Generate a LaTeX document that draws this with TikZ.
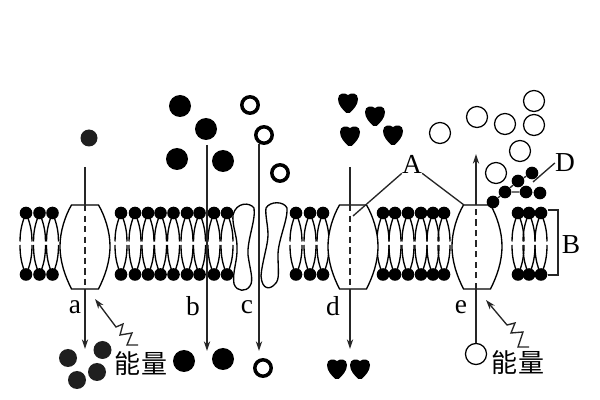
\documentclass[tikz,border=0pt]{standalone}
\usepackage{fontspec}
\setmainfont{Liberation Serif}
\newfontfamily\cjk{Noto Sans CJK SC}
\usepackage{tikz}
\usetikzlibrary{arrows.meta}

\tikzset{
  line/.style={line width=0.95pt,black!85},
  flow/.style={line,-{Stealth[length=7pt,width=4.5pt]}},
  gap/.style={line,dash pattern=on 4.5pt off 3pt},
  head/.style={fill=black},
  ball/.style={fill=black!88},
  ring/.style={draw=black,line width=2.5pt,fill=white},
  open/.style={draw=black,line width=0.9pt,fill=white},
  lab/.style={font=\fontsize{19.5}{22}\selectfont,inner sep=0pt},
  cjklab/.style={font=\cjk\fontsize{18.5}{20}\selectfont,inner sep=0pt},
  link/.style={circle,fill=black,inner sep=0pt,minimum size=9pt}
}
% one lipid pair of the bilayer
\newcommand{\lipid}[1]{
  \draw[line,black] (#1-1.5,217) .. controls (#1-5,226) and (#1-6,234) .. (#1-6,241.5);
  \draw[line,black] (#1+1.5,217) .. controls (#1+5,226) and (#1+6,234) .. (#1+6,241.5);
  \draw[line,black] (#1-1.5,271) .. controls (#1-5,262) and (#1-6,254) .. (#1-6,245);
  \draw[line,black] (#1+1.5,271) .. controls (#1+5,262) and (#1+6,254) .. (#1+6,245);
  \fill[head] (#1,213) circle (6.3);
  \fill[head] (#1,274.5) circle (6.3);
}
% carrier protein
\newcommand{\protein}[1]{
  \draw[line,black,fill=white] (#1-13.5,205) -- (#1+13.5,205)
    .. controls (#1+20,216) and (#1+25,232) .. (#1+25,246)
    .. controls (#1+25,262) and (#1+20,276) .. (#1+13.5,289)
    -- (#1-13.5,289)
    .. controls (#1-20,276) and (#1-25,262) .. (#1-25,246)
    .. controls (#1-25,232) and (#1-20,216) .. (#1-13.5,205) -- cycle;
}
% heart shaped particle
\newcommand{\heart}[2]{
  \fill[black] (#1,#2-8) .. controls (#1+3,#2-10.5) and (#1+10,#2-10.5) .. (#1+10,#2-4)
    .. controls (#1+10,#2+2) and (#1+5,#2+7) .. (#1+1.5,#2+10)
    -- (#1-1.5,#2+10)
    .. controls (#1-5,#2+7) and (#1-10,#2+2) .. (#1-10,#2-4)
    .. controls (#1-10,#2-10.5) and (#1-3,#2-10.5) .. (#1,#2-8) -- cycle;
}

\begin{document}
\begin{tikzpicture}[x=0.025cm,y=-0.025cm]
  \useasboundingbox (0,0) rectangle (600,400);
  % bilayer
  \foreach \x in {26,39.5,52.5,121,135,148,160.5,173.5,187,199.5,214,227,296,310,323,383,395,408,421,433,444,518,529,541}
    {\lipid{\x}}
  % proteins
  \protein{85}
  \protein{353}
  \protein{477}
  % channel
  \draw[line,black,fill=white] (233,215) .. controls (236,202) and (250,202) .. (254,208)
    .. controls (256,220) and (247,240) .. (248,255)
    .. controls (250,270) and (254,280) .. (250,286)
    .. controls (246,292) and (237,292) .. (234,284)
    .. controls (232,272) and (238,260) .. (237,246)
    .. controls (237,236) and (232,225) .. (233,215) -- cycle;
  \draw[line,black,fill=white] (266,208) .. controls (270,201) and (284,201) .. (287,208)
    .. controls (288,220) and (278,240) .. (278,255)
    .. controls (278,270) and (280,280) .. (275,284)
    .. controls (270,290) and (262,290) .. (261,276)
    .. controls (262,262) and (268,245) .. (268,235)
    .. controls (268,225) and (265,215) .. (266,208) -- cycle;
  % transport lines
  \coordinate (atop) at (85,167);
  \coordinate (ain) at (85,205);
  \coordinate (aout) at (85,289);
  \coordinate (aend) at (85,349);
  \draw[line] (atop) -- (ain);
  \draw[gap] (ain) -- (aout);
  \draw[flow] (aout) -- (aend);
  \coordinate (btop) at (207,145);
  \coordinate (bend) at (207,351);
  \draw[flow] (btop) -- (bend);
  \coordinate (ctop) at (259,144);
  \coordinate (cend) at (259,351);
  \draw[flow] (ctop) -- (cend);
  \coordinate (dtop) at (350,167);
  \coordinate (din) at (350,205);
  \coordinate (dout) at (350,289);
  \coordinate (dend) at (350,349);
  \draw[line] (dtop) -- (din);
  \draw[gap] (din) -- (dout);
  \draw[flow] (dout) -- (dend);
  \node[open,circle,inner sep=0pt,minimum size=15pt] (estart) at (476,354) {};
  \coordinate (eout) at (476,289);
  \coordinate (ein) at (476,205);
  \coordinate (eend) at (476,154);
  \draw[line] (estart) -- (eout);
  \draw[gap] (eout) -- (ein);
  \draw[flow] (ein) -- (eend);
  % particles
  \foreach \x/\y in {89/138}
    \fill[ball] (\x,\y) circle (8.5);
  \foreach \x/\y in {68/358,102.5/350,97/372,77/380}
    \fill[ball] (\x,\y) circle (9);
  \foreach \x/\y in {180/106,206/129,177/159,223/161,184/361,223/359}
    \fill[black] (\x,\y) circle (11);
  \foreach \x/\y in {250/105,264/135,280/173,263/368}
    \draw[ring] (\x,\y) circle (8.2);
  \foreach \x/\y in {348/103,375/116,350/136,393/135,337/369,360/369}
    {\heart{\x}{\y}}
  \foreach \x/\y in {440/133,477/117,505/124,534/101,534/125,520/151,496/173}
    \draw[open] (\x,\y) circle (10.5);
  % chain
  \node[link] (ch1) at (493,202) {};
  \node[link] (ch2) at (505,192) {};
  \node[link] (ch3) at (518,181) {};
  \node[link] (ch4) at (532,173) {};
  \node[link] (ch5) at (526,192) {};
  \node[link] (ch6) at (540,193) {};
  \draw[line] (ch1) -- (ch2) -- (ch3) -- (ch4);
  \draw[line] (ch2) -- (ch5) -- (ch6);
  % labels
  \node[lab] (la) at (75,307) {a};
  \node[lab] (lb) at (193,306) {b};
  \node[lab] (lc) at (247,307) {c};
  \node[lab] (ld) at (333,306) {d};
  \node[lab] (le) at (461,307) {e};
  \node[lab] (lA) at (412,164) {A};
  \node[lab] (lB) at (571,245) {B};
  \node[lab] (lD) at (565,163) {D};
  \coordinate (Aone) at (353,216);
  \coordinate (Atwo) at (464,205);
  \draw[line] (lA.south west) -- (Aone);
  \draw[line] (lA.south east) -- (Atwo);
  \coordinate (Dend) at (533,182);
  \draw[line] (lD.west) -- (Dend);
  % bracket
  \coordinate (Bup) at (548,210);
  \coordinate (Bdown) at (548,275);
  \draw[line] (Bup) -- (558,210) -- (558,275) -- (Bdown);
  % energy
  \node[cjklab] (ea) at (141,364) {能量};
  \node[cjklab] (ee) at (518,363) {能量};
  \coordinate (eatip) at (95,299);
  \coordinate (eetip) at (486,300);
  \draw[line,{Stealth[length=7pt,width=4.5pt]}-] (eatip) -- (116,327) -- (123,324) -- (120,335) -- (132,333) -- (127,345) -- (138,345);
  \draw[line,{Stealth[length=7pt,width=4.5pt]}-] (eetip) -- (507,325) -- (515,323) -- (511,333) -- (523,332) -- (518,347) -- (529,347);
\end{tikzpicture}
\end{document}
